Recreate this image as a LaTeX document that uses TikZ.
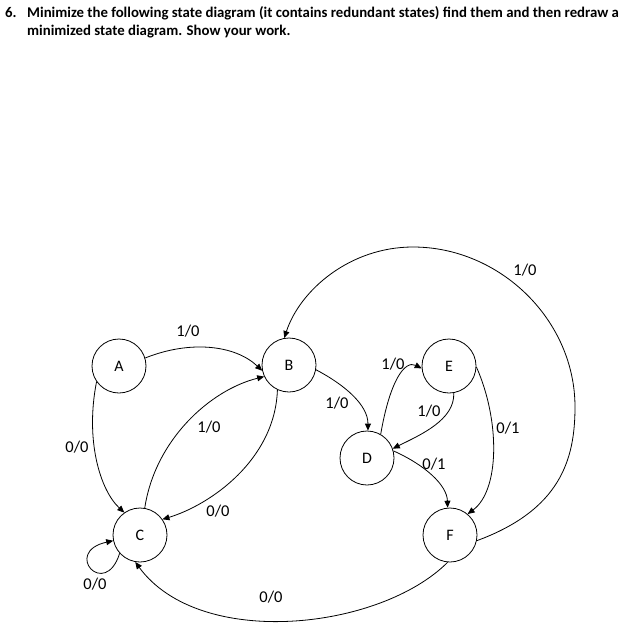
\documentclass[tikz,border=0pt]{standalone}
\usepackage{fontspec}
\setmainfont{Carlito}
\usetikzlibrary{arrows.meta}
\begin{document}
\begin{tikzpicture}[x=1pt,y=-1pt,
  state/.style={circle,draw,line width=0.8pt,minimum size=54pt,inner sep=0pt,font=\fontsize{16}{18}\selectfont},
  edge/.style={draw,line width=0.8pt,-{Triangle[length=7pt,width=6pt]}},
  lbl/.style={inner sep=0pt,font=\fontsize{16.5}{19}\selectfont},
  ttl/.style={inner sep=0pt,anchor=base west,font=\fontsize{14.8}{17}\selectfont\bfseries}]
\useasboundingbox (0,0) rectangle (621,629);
% title
\node[ttl] (t0) at (5,17) {6.};
\node[ttl] (t1) at (27,17) {Minimize the following state diagram (it contains redundant states) find them and then redraw a};
\node[ttl] (t2) at (27,35) {minimized state diagram. Show your work.};
% states
\node[state] (A) at (119,366) {A};
\node[state] (B) at (289,365) {B};
\node[state] (C) at (140,535) {C};
\node[state] (D) at (367,458) {D};
\node[state] (E) at (449,366) {E};
\node[state] (F) at (450,535) {F};
% edges
\draw[edge] (A.17) .. controls (190,340) and (235,345) .. (B.192);
\draw[edge] (A.215) .. controls (85,440) and (100,490) .. (C.125);
\draw[edge] (C.80) .. controls (155,440) and (210,390) .. (B.205);
\draw[edge] (B.-115) .. controls (275,460) and (210,505) .. (C.35);
\draw[edge] (C.222) .. controls (105,600) and (62,552) .. (C.192);
\draw[edge] (F.-95) .. controls (380,630) and (200,650) .. (C.-100);
\draw[edge] (B.-10) .. controls (345,385) and (368,405) .. (D.88);
\draw[edge] (D.60) .. controls (390,380) and (405,360) .. (E.185);
\draw[edge] (E.-80) .. controls (455,420) and (420,435) .. (D.20);
\draw[edge] (D.15) .. controls (425,465) and (447,485) .. (F.95);
\draw[edge] (E.-2) .. controls (500,420) and (500,490) .. (F.50);
\draw[edge] (F.-12) .. controls (560,510) and (575,460) .. (575,407)
   .. controls (575,320) and (500,247) .. (413,247)
   .. controls (350,247) and (300,290) .. (B.100);
% labels
\node[lbl] (l1) at (188,331) {1/0};
\node[lbl] (l2) at (77,447) {0/0};
\node[lbl] (l3) at (209,427) {1/0};
\node[lbl] (l4) at (218,511) {0/0};
\node[lbl] (l5) at (95,584) {0/0};
\node[lbl] (l6) at (271,597) {0/0};
\node[lbl] (l7) at (337,403) {1/0};
\node[lbl] (l8) at (393,364) {1/0};
\node[lbl] (l9) at (429,411) {1/0};
\node[lbl] (l10) at (434,464) {0/1};
\node[lbl] (l11) at (508,428) {0/1};
\node[lbl] (l12) at (525,270) {1/0};
\end{tikzpicture}
\end{document}
